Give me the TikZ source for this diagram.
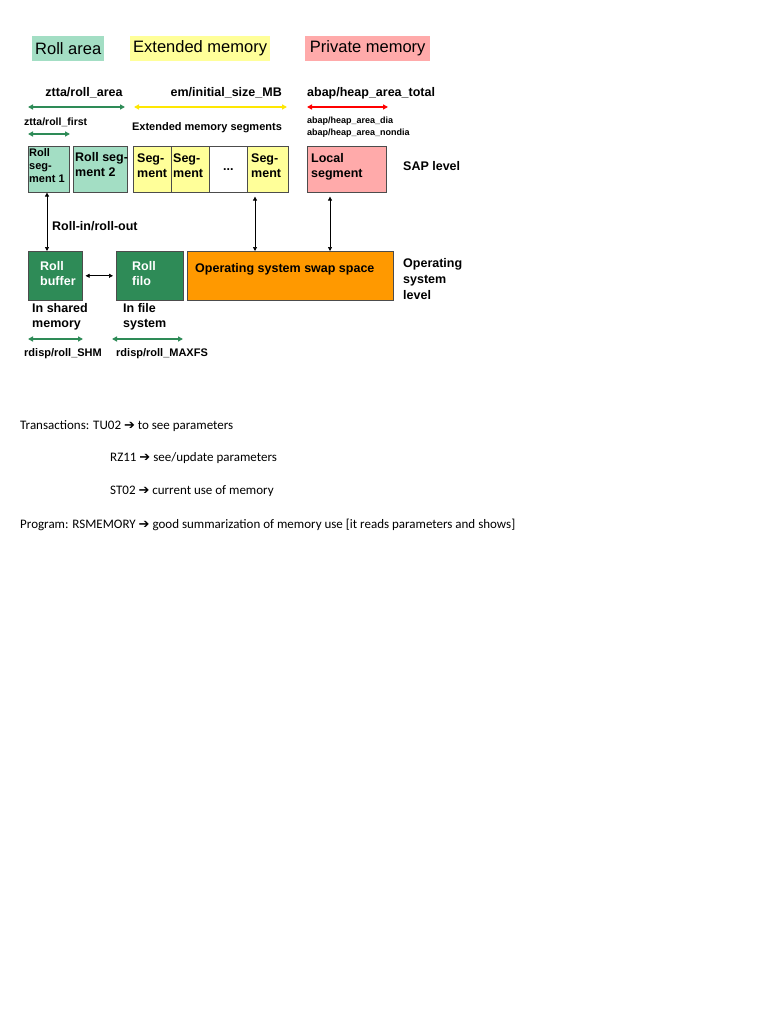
\documentclass[tikz,border=0pt]{standalone}
\usepackage{fontspec}
\setmainfont{Liberation Sans}
\newfontfamily\calfnt{Carlito}
\newfontfamily\dvs{DejaVu Sans}
\usetikzlibrary{arrows.meta}
\definecolor{rollc}{HTML}{A3DEC4}
\definecolor{rolld}{HTML}{2E8B57}
\definecolor{yelc}{HTML}{FFFF99}
\definecolor{pinkc}{HTML}{FFAAAA}
\definecolor{orc}{HTML}{FF9900}
\tikzset{
 hdr/.style={anchor=west,inner sep=3pt,minimum height=25pt,font=\fontsize{16.5}{16}\selectfont},
 lbl/.style={font=\bfseries\fontsize{12.5}{14}\selectfont,inner sep=0pt},
 sml/.style={font=\bfseries\fontsize{9}{12}\selectfont,inner sep=0pt,anchor=west,align=left},
 bx/.style={draw=black!70,line width=0.6pt,anchor=north west,inner sep=0pt},
 btxt/.style={font=\bfseries\fontsize{12.5}{15}\selectfont,align=left,inner sep=0pt},
 dbl/.style={{Triangle[length=5pt,width=5pt]}-{Triangle[length=5pt,width=5pt]},line width=1.6pt},
 vr/.style={{Triangle[length=4pt,width=4pt]}-{Triangle[length=4pt,width=4pt]},line width=0.7pt},
 bt/.style={font=\calfnt\fontsize{13}{15}\selectfont,anchor=west,inner sep=0pt}
}
\begin{document}
\begin{tikzpicture}[x=1pt,y=-1pt]
\useasboundingbox[fill=white] (0,0) rectangle (768,1024);
% headers
\node[hdr,fill=rollc,minimum width=72pt] (h1) at (32,48.5) {Roll area};
\node[hdr,fill=yelc,minimum width=138pt] (h2) at (130,48.5) {Extended memory};
\node[hdr,fill=pinkc,minimum width=125pt] (h3) at (305,48.5) {Private memory};
% parameter labels and arrows
\node[lbl] (p1) at (84,93) {ztta/roll\_area};
\coordinate (a1l) at (28,107); \coordinate (a1r) at (125,107);
\draw[dbl,rolld] (a1l) -- (a1r);
\node[lbl,anchor=east] (p2) at (282,93) {em/initial\_size\_MB};
\coordinate (a2l) at (134,107); \coordinate (a2r) at (287,107);
\draw[dbl,yellow!90!orange] (a2l) -- (a2r);
\node[lbl,anchor=west] (p3) at (307,93) {abap/heap\_area\_total};
\coordinate (a3l) at (307,107); \coordinate (a3r) at (388,107);
\draw[dbl,red] (a3l) -- (a3r);
\node[lbl,anchor=west,font=\bfseries\fontsize{10.5}{12}\selectfont] (p4) at (24,122) {ztta/roll\_first};
\coordinate (a4l) at (28,134); \coordinate (a4r) at (70,134);
\draw[dbl,rolld] (a4l) -- (a4r);
\node[lbl,font=\bfseries\fontsize{11}{12}\selectfont] (ems) at (207,128) {Extended memory segments};
\node[sml] (hd) at (307,121) {abap/heap\_area\_dia};
\node[sml] (hn) at (307,133) {abap/heap\_area\_nondia};
% SAP level boxes
\node[bx,fill=rollc,minimum width=41pt,minimum height=46pt] (rs1) at (28,146) {};
\node[btxt,anchor=north west,font=\bfseries\fontsize{11}{13}\selectfont] at (29,148) {Roll\\seg-\\ment 1};
\node[bx,fill=rollc,minimum width=54pt,minimum height=46pt] (rs2) at (73,146) {};
\node[btxt,anchor=north west] at (75,152) {Roll seg-\\ment 2};
\node[bx,fill=yelc,minimum width=38pt,minimum height=46pt] (sg1) at (133,146) {};
\node[btxt,anchor=north west] at (137,154) {Seg-\\ment};
\node[bx,fill=yelc,minimum width=38pt,minimum height=46pt] (sg2) at (171,146) {};
\node[btxt,anchor=north west] at (173,154) {Seg-\\ment};
\node[bx,fill=white,minimum width=38pt,minimum height=46pt] (sgd) at (209,146) {};
\node[btxt] at (sgd.center) {...};
\node[bx,fill=yelc,minimum width=41pt,minimum height=46pt] (sg3) at (247,146) {};
\node[btxt,anchor=north west] at (251,154) {Seg-\\ment};
\node[bx,fill=pinkc,minimum width=79pt,minimum height=46pt] (loc) at (307,146) {};
\node[btxt,anchor=north west] at (311,153) {Local\\segment};
\node[lbl,anchor=west] (sap) at (403,166) {SAP level};
% OS level boxes
\node[bx,fill=rolld,minimum width=54pt,minimum height=49pt] (rb) at (28,251) {};
\node[btxt,anchor=north west,text=white] at (40,261) {Roll\\buffer};
\node[bx,fill=rolld,minimum width=67pt,minimum height=49pt] (rf) at (116,251) {};
\node[btxt,anchor=north west,text=white] at (132,261) {Roll\\filo};
\node[bx,fill=orc,minimum width=206pt,minimum height=49pt] (sw) at (187,251) {};
\node[btxt,anchor=west] at (195,269) {Operating system swap space};
\node[btxt,anchor=north west,font=\bfseries\fontsize{12.5}{16}\selectfont] (osl) at (403,258) {Operating\\system\\level};
% vertical arrows
\draw[vr] (rs1.south -| 47,0) -- (rb.north -| 47,0);
\node[lbl,anchor=west] (rio) at (52,226) {Roll-in/roll-out};
\draw[vr] (sg3.south -| 255,0) ++(0,4) -- (sw.north -| 255,0) ;
\draw[vr] (loc.south -| 330,0) ++(0,4) -- (sw.north -| 330,0);
\draw[vr] (rb.east) ++(3,0) -- ([xshift=-3pt]rf.west);
% bottom labels
\node[btxt,anchor=north west,font=\bfseries\fontsize{12.5}{15}\selectfont] at (32,303) {In shared\\memory};
\node[btxt,anchor=north west,font=\bfseries\fontsize{12.5}{15}\selectfont] at (123,303) {In file\\system};
\coordinate (b1l) at (28,339); \coordinate (b1r) at (83,339);
\draw[dbl,rolld] (b1l) -- (b1r);
\coordinate (b2l) at (112,339); \coordinate (b2r) at (183,339);
\draw[dbl,rolld] (b2l) -- (b2r);
\node[lbl,anchor=west,font=\bfseries\fontsize{11}{12}\selectfont] (shm) at (24,354) {rdisp/roll\_SHM};
\node[lbl,anchor=west,font=\bfseries\fontsize{11}{12}\selectfont] (mfs) at (116,354) {rdisp/roll\_MAXFS};
% bottom text
\node[bt] (t1) at (20,426) {Transactions: TU02 {\dvs\bfseries ➔} to see parameters};
\node[bt] (t2) at (110,458) {RZ11 {\dvs\bfseries ➔} see/update parameters};
\node[bt] (t3) at (110,491) {ST02 {\dvs\bfseries ➔} current use of memory};
\node[bt] (t4) at (20,525) {Program: RSMEMORY {\dvs\bfseries ➔} good summarization of memory use [it reads parameters and shows]};
\end{tikzpicture}
\end{document}
